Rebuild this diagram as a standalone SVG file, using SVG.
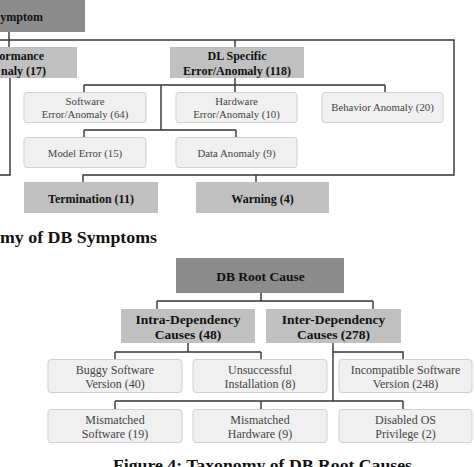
<svg xmlns="http://www.w3.org/2000/svg" width="474" height="467" viewBox="0 0 474 467">
<style>
.dark{fill:#8c8c8c}
.mid{fill:#c0c0c0}
.leaf{fill:#f0f0f0;stroke:#cfcfcf;stroke-width:1}
.b{font-family:"Liberation Serif",serif;font-weight:bold;font-size:12px;fill:#111;text-anchor:middle}
.B{font-family:"Liberation Serif",serif;font-weight:bold;font-size:13.5px;fill:#111;text-anchor:middle}
.r{font-family:"Liberation Serif",serif;font-size:10.8px;fill:#444;text-anchor:middle}
.R{font-family:"Liberation Serif",serif;font-size:12px;fill:#444;text-anchor:middle}
.cap{font-family:"Liberation Serif",serif;font-weight:bold;font-size:16px;fill:#111}
.ln{fill:none;stroke:#333;stroke-width:1.4}
</style>
<rect width="474" height="467" fill="#fff"/>
<g id="connectors" class="ln">
<path d="M9,32V40M0,40H454V175H83V182M9,40V47M235,40V47"/>
<path d="M10,78V175H0"/>
<path d="M256,175V182"/>
<path d="M235,78V85M84,85H385M84,85V92M235,85V92M385,85V92"/>
<path d="M161,85V130M84,130H236M84,130V137M236,130V137"/>
<path d="M261,293V301M157,301H373M157,301V309M373,301V309"/>
<path d="M188,343V352M115,352H261M115,352V359M261,352V359"/>
<path d="M333,343V401M333,352H403V359M115,401H403M115,401V409M261,401V409M403,401V409"/>
</g>
<g id="symptom"><rect x="-2" y="-2" width="87" height="34" class="dark"/><text x="43" y="20.5" class="b" style="text-anchor:end">ymptom</text></g>
<g id="performance"><rect x="-2" y="47" width="79" height="31" class="mid"/><text x="44" y="60" class="b" style="text-anchor:end">ormance</text><text x="46" y="75" class="b" style="text-anchor:end">naly (17)</text></g>
<g id="dlspecific"><rect x="170" y="47" width="134" height="31" class="mid"/><text x="237" y="60" class="b">DL Specific</text><text x="237" y="75" class="b">Error/Anomaly (118)</text></g>
<g id="software"><rect x="24" y="92.5" width="122" height="30" rx="3" class="leaf"/><text x="85" y="105" class="r">Software</text><text x="85" y="118" class="r">Error/Anomaly (64)</text></g>
<g id="hardware"><rect x="176" y="92.5" width="121" height="30" rx="3" class="leaf"/><text x="236.5" y="105" class="r">Hardware</text><text x="236.5" y="118" class="r">Error/Anomaly (10)</text></g>
<g id="behavior"><rect x="322" y="92.5" width="121" height="30" rx="3" class="leaf"/><text x="382.5" y="111" class="r">Behavior Anomaly (20)</text></g>
<g id="model"><rect x="24" y="137.5" width="122" height="30" rx="3" class="leaf"/><text x="85" y="156.5" class="r">Model Error (15)</text></g>
<g id="data"><rect x="176" y="137.5" width="121" height="30" rx="3" class="leaf"/><text x="236.5" y="156.5" class="r">Data Anomaly (9)</text></g>
<g id="termination"><rect x="24" y="182" width="134" height="31" class="mid"/><text x="91" y="203" class="b">Termination (11)</text></g>
<g id="warning"><rect x="196" y="182" width="133" height="31" class="mid"/><text x="262.5" y="203" class="b">Warning (4)</text></g>
<text x="0" y="243" class="cap" textLength="157" lengthAdjust="spacingAndGlyphs">my of DB Symptoms</text>
<g id="rootcause"><rect x="176" y="258" width="168" height="35" class="dark"/><text x="260.5" y="280.5" class="B">DB Root Cause</text></g>
<g id="intra"><rect x="121" y="309" width="134" height="34" class="mid"/><text x="188" y="323.5" class="B">Intra-Dependency</text><text x="188" y="338.5" class="B">Causes (48)</text></g>
<g id="inter"><rect x="266" y="309" width="135" height="34" class="mid"/><text x="333.5" y="323.5" class="B">Inter-Dependency</text><text x="333.5" y="338.5" class="B">Causes (278)</text></g>
<g id="buggy"><rect x="48" y="359.5" width="134" height="33" rx="3" class="leaf"/><text x="115" y="374" class="R">Buggy Software</text><text x="115" y="387.5" class="R">Version (40)</text></g>
<g id="unsuccessful"><rect x="193" y="359.5" width="134" height="33" rx="3" class="leaf"/><text x="260" y="374" class="R">Unsuccessful</text><text x="260" y="387.5" class="R">Installation (8)</text></g>
<g id="incompatible"><rect x="339" y="359.5" width="133" height="33" rx="3" class="leaf"/><text x="405.5" y="374" class="R">Incompatible Software</text><text x="405.5" y="387.5" class="R">Version (248)</text></g>
<g id="mmsoftware"><rect x="48" y="409.5" width="134" height="33" rx="3" class="leaf"/><text x="115" y="424" class="R">Mismatched</text><text x="115" y="437.5" class="R">Software (19)</text></g>
<g id="mmhardware"><rect x="193" y="409.5" width="134" height="33" rx="3" class="leaf"/><text x="260" y="424" class="R">Mismatched</text><text x="260" y="437.5" class="R">Hardware (9)</text></g>
<g id="disabled"><rect x="339" y="409.5" width="133" height="33" rx="3" class="leaf"/><text x="405.5" y="424" class="R">Disabled OS</text><text x="405.5" y="437.5" class="R">Privilege (2)</text></g>
<text x="113" y="471" class="cap" textLength="299" lengthAdjust="spacingAndGlyphs">Figure 4: Taxonomy of DB Root Causes</text>
</svg>
